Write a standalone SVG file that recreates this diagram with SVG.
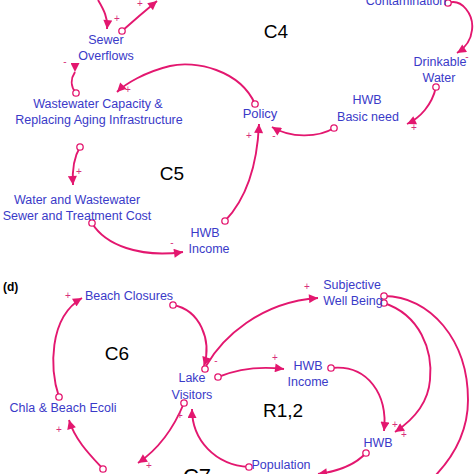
<svg xmlns="http://www.w3.org/2000/svg" width="474" height="474" viewBox="0 0 474 474">
<defs>
<marker id="ah" viewBox="0 0 10 10" refX="10" refY="5" markerUnits="userSpaceOnUse" markerWidth="10" markerHeight="9" orient="auto"><path d="M0,0 L10,5 L0,10 z" fill="#e3176f"/></marker>
<marker id="ahd" viewBox="0 0 10 10" refX="10" refY="5" markerUnits="userSpaceOnUse" markerWidth="10" markerHeight="9" orient="90"><path d="M0,0 L10,5 L0,10 z" fill="#e3176f"/></marker>
</defs>
<style>
.n{font-family:"Liberation Sans",Arial,sans-serif;font-size:12.5px;fill:#3a3ac8;text-anchor:middle}
.l{font-family:"Liberation Sans",Arial,sans-serif;font-size:19px;fill:#000;text-anchor:middle}
.s{font-family:"Liberation Sans",Arial,sans-serif;font-size:10px;fill:#d8307a;text-anchor:middle}
.c{fill:none;stroke:#e3176f;stroke-width:1.9;marker-end:url(#ah)}
.p{fill:none;stroke:#e3176f;stroke-width:1.9}
.o{fill:#fff;stroke:#e3176f;stroke-width:1.3}
</style>
<rect width="474" height="474" fill="#fff"/>
<g id="connectors">
<path class="c" d="M98,0 C104,10 108,18 107,29"/>
<path class="c" d="M122,31 Q140,15 157,1"/>
<path class="p" d="M76,93 C70,86 71,78 75,72" style="marker-end:url(#ahd)"/>
<path class="c" d="M255,104 C240,70 195,60 170,66 C145,72 125,84 117,92"/>
<path class="c" d="M334,128 C318,138 290,138 272,127"/>
<path class="c" d="M436,87 C432,105 420,118 407,124"/>
<path class="c" d="M448,3 C462,-2 474,15 472,30 C471,40 465,48 457,53"/>
<path class="c" d="M225,221 C245,200 257,170 259,124"/>
<path class="c" d="M80,147 C74,157 72,170 73,185"/>
<path class="c" d="M92,223 C105,245 140,258 183,252"/>
<path class="c" d="M59,397 C50,370 48,318 82,298"/>
<path class="c" d="M173,305 C200,310 212,340 204,366"/>
<path class="c" d="M206,366 C222,338 260,302 318,298"/>
<path class="c" d="M218,377 C240,368 260,366 284,369"/>
<path class="c" d="M331,368 C368,364 388,395 384,431"/>
<path class="c" d="M384,303 C420,315 433,350 430,380 C428,405 410,422 395,432"/>
<path class="p" d="M384,296 C430,296 468,340 468,400 C468,430 455,455 435,476"/>
<path class="c" d="M366,453 C355,465 340,471 318,474"/>
<path class="c" d="M249,467 C215,465 192,440 192,409"/>
<path class="c" d="M184,403 C175,425 160,448 138,463"/>
<path class="c" d="M103,469 C90,455 75,440 69,420"/>
<circle class="o" cx="122" cy="31" r="3.2"/>
<circle class="o" cx="76" cy="93" r="3.2"/>
<circle class="o" cx="255" cy="104" r="3.2"/>
<circle class="o" cx="334" cy="128" r="3.2"/>
<circle class="o" cx="436" cy="87" r="3.2"/>
<circle class="o" cx="448" cy="3" r="3.2"/>
<circle class="o" cx="80" cy="147" r="3.2"/>
<circle class="o" cx="92" cy="223" r="3.2"/>
<circle class="o" cx="225" cy="221" r="3.2"/>
<circle class="o" cx="173" cy="305" r="3.2"/>
<circle class="o" cx="59" cy="397" r="3.2"/>
<circle class="o" cx="205" cy="369" r="3.2"/>
<circle class="o" cx="218" cy="377" r="3.2"/>
<circle class="o" cx="184" cy="403" r="3.2"/>
<circle class="o" cx="331" cy="368" r="3.2"/>
<circle class="o" cx="384" cy="296" r="3.2"/>
<circle class="o" cx="384" cy="303" r="3.2"/>
<circle class="o" cx="366" cy="453" r="3.2"/>
<circle class="o" cx="249" cy="467" r="3.2"/>
<circle class="o" cx="103" cy="469" r="3.2"/>
<text class="s" x="140" y="7">+</text>
<text class="s" x="117" y="22">+</text>
<text class="s" x="65" y="65">-</text>
<text class="s" x="128" y="93">+</text>
<text class="s" x="249" y="139">+</text>
<text class="s" x="274" y="139">-</text>
<text class="s" x="414" y="131">+</text>
<text class="s" x="467" y="60">-</text>
<text class="s" x="79" y="175">+</text>
<text class="s" x="172" y="246">-</text>
<text class="s" x="68" y="299">+</text>
<text class="s" x="216" y="364">-</text>
<text class="s" x="180" y="419">+</text>
<text class="s" x="149" y="469">+</text>
<text class="s" x="59" y="433">+</text>
<text class="s" x="307" y="290">+</text>
<text class="s" x="275" y="361">+</text>
<text class="s" x="395" y="428">+</text>
<text class="s" x="404" y="438">+</text>
</g>
<g id="sewer-overflows"><text class="n" x="106" y="44">Sewer</text><text class="n" x="106" y="60">Overflows</text></g>
<g id="contamination"><text class="n" x="406" y="5">Contamination</text></g>
<g id="c4"><text class="l" x="276" y="38">C4</text></g>
<g id="drinkable-water"><text class="n" x="440" y="66">Drinkable</text><text class="n" x="439" y="82">Water</text></g>
<g id="wastewater-capacity"><text class="n" x="98" y="108">Wastewater Capacity &amp;</text><text class="n" x="99" y="124">Replacing Aging Infrastructure</text></g>
<g id="policy"><text class="n" x="260" y="118" style="font-size:13px">Policy</text></g>
<g id="hwb-basic-need"><text class="n" x="367" y="104">HWB</text><text class="n" x="368" y="121">Basic need</text></g>
<g id="c5"><text class="l" x="172" y="180">C5</text></g>
<g id="water-cost"><text class="n" x="77" y="204">Water and Wastewater</text><text class="n" x="77" y="220">Sewer and Treatment Cost</text></g>
<g id="hwb-income-top"><text class="n" x="205" y="237">HWB</text><text class="n" x="209" y="253">Income</text></g>
<g id="label-d"><text x="3" y="291" style="font-family:'Liberation Sans',Arial,sans-serif;font-size:12px;font-weight:bold;fill:#000">(d)</text></g>
<g id="beach-closures"><text class="n" x="129" y="300">Beach Closures</text></g>
<g id="c6"><text class="l" x="117" y="360">C6</text></g>
<g id="subjective-well-being"><text class="n" x="352" y="289">Subjective</text><text class="n" x="353" y="305">Well Being</text></g>
<g id="lake-visitors"><text class="n" x="192" y="382">Lake</text><text class="n" x="192" y="399">Visitors</text></g>
<g id="hwb-income"><text class="n" x="308" y="370">HWB</text><text class="n" x="308" y="386">Income</text></g>
<g id="chla"><text class="n" x="63" y="412">Chla &amp; Beach Ecoli</text></g>
<g id="r12"><text class="l" x="283" y="417">R1,2</text></g>
<g id="hwb"><text class="n" x="378" y="447">HWB</text></g>
<g id="population"><text class="n" x="281" y="469">Population</text></g>
<g id="c7"><text class="l" x="197" y="484" style="font-size:22px">C7</text></g>
</svg>
